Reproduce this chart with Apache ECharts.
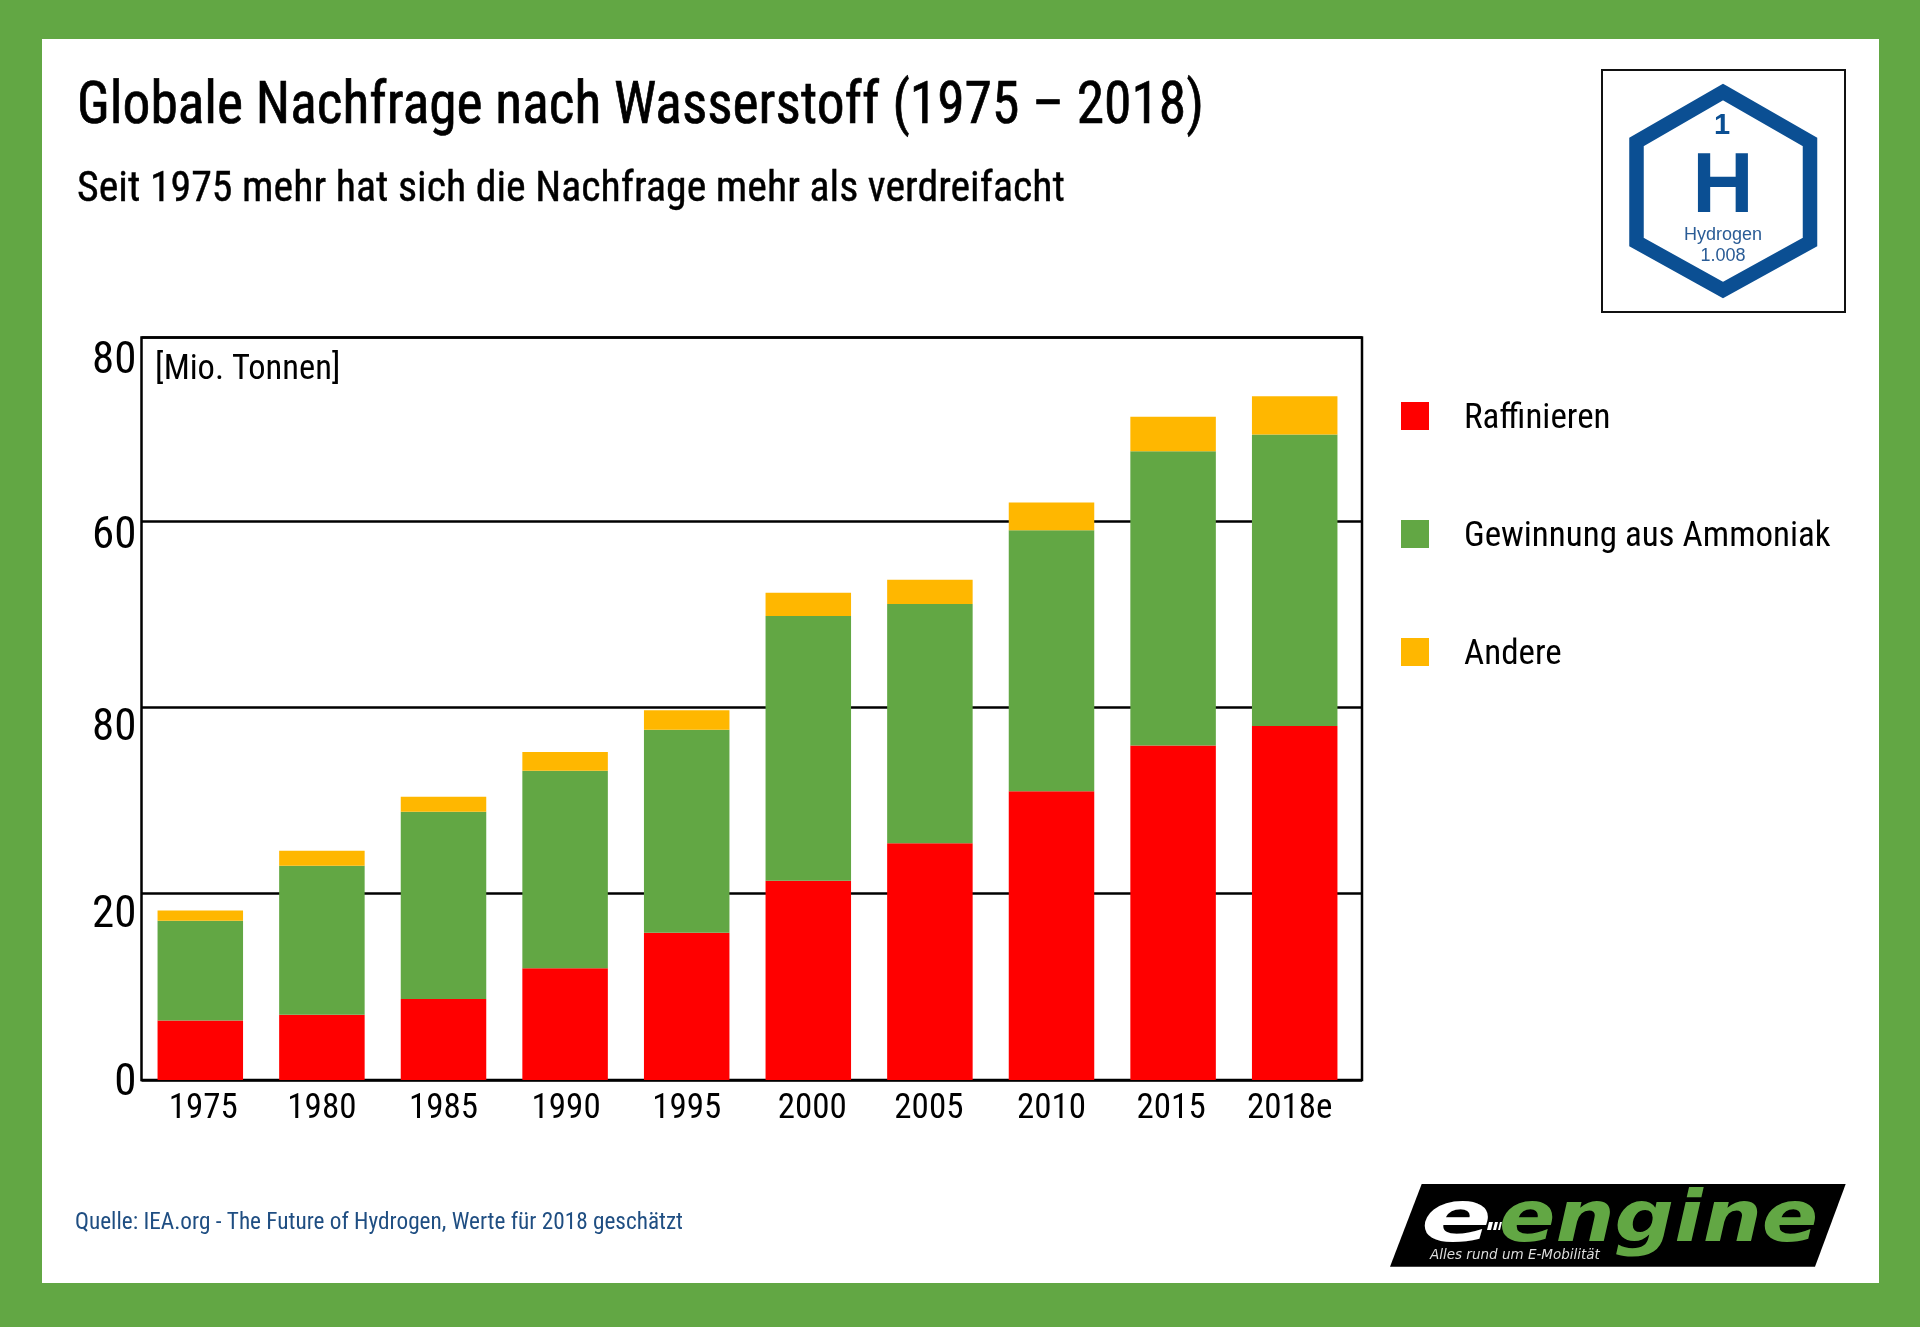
<!DOCTYPE html>
<html lang="de">
<head>
<meta charset="utf-8">
<title>Globale Nachfrage nach Wasserstoff</title>
<style>html,body{margin:0;padding:0;background:#fff}#c{width:1920px;height:1327px}</style>
<script src="https://cdn.jsdelivr.net/npm/echarts@6/dist/echarts.min.js"></script>
</head>
<body>
<div id="c"></div>
<script>
const categories = ['1975','1980','1985','1990','1995','2000','2005','2010','2015','2018e'];
const raffinieren = [6.4,7.0,8.7,12.0,15.8,21.4,25.4,31.0,35.9,38.0];
const ammoniak = [10.7,16.0,20.1,21.2,21.8,28.4,25.7,28.0,31.6,31.3];
const andere = [1.1,1.6,1.6,2.0,2.1,2.5,2.6,3.0,3.7,4.1];
const yTickLabels = ['0','20','80','60','80'];
const seriesNames = ['Raffinieren','Gewinnung aus Ammoniak','Andere'];
const titleText = 'Globale Nachfrage nach Wasserstoff (1975 – 2018)';
const subtitleText = 'Seit 1975 mehr hat sich die Nachfrage mehr als verdreifacht';
const sourceText = 'Quelle: IEA.org - The Future of Hydrogen, Werte für 2018 geschätzt';
const unitText = '[Mio. Tonnen]';

const yLabelShift = [4,22,21,16,24];
const xLabelShift = [3,0,0,1,0,4,-1,0,-2,-5];
const NARROW = '"Roboto Condensed","Liberation Sans Narrow","Liberation Sans",sans-serif';
const GREEN = '#62A744', RED = '#FF0000', AMBER = '#FFB700', BLUE = '#0B4F93';

const yRich = {};
yLabelShift.forEach((s,i)=>{yRich['t'+i]={padding:[2*s,0,0,0],fontFamily:NARROW,fontSize:45,color:'#000'};});
const xRich = {};
xLabelShift.forEach((s,i)=>{xRich['t'+i]={padding:s>=0?[0,0,0,2*s]:[0,-2*s,0,0],fontFamily:NARROW,fontSize:35,color:'#000'};});

const chart = echarts.init(document.getElementById('c'),null,{renderer:'canvas',width:1920,height:1327});
const t = (x,y,text,font,fill,extra)=>({type:'text',x,y,style:Object.assign({text,font,fill,textVerticalAlign:'middle'},extra||{})});

chart.setOption({
  animation:false,
  backgroundColor:GREEN,
  grid:[
    {left:141.5,top:337.5,width:1220.5,height:742.5,show:true,backgroundColor:'transparent',borderColor:'#000',borderWidth:2.5,containLabel:false},
    {left:139.5,top:337.5,width:1216,height:742.5,containLabel:false}
  ],
  xAxis:[
    {gridIndex:0,type:'value',min:0,max:1,show:false},
    {gridIndex:1,type:'category',data:categories,axisLine:{show:false},axisTick:{show:false},
     axisLabel:{interval:0,margin:12,formatter:(v,i)=>'{t'+i+'|'+v+'}',rich:xRich}}
  ],
  yAxis:[
    {gridIndex:0,type:'value',min:0,max:79.7,interval:20,
     axisLine:{show:false},axisTick:{show:false},
     splitLine:{show:true,lineStyle:{color:'#000',width:2.5}},
     axisLabel:{margin:5,showMaxLabel:true,formatter:(v,i)=>'{t'+i+'|'+yTickLabels[i]+'}',rich:yRich}},
    {gridIndex:1,type:'value',min:0,max:79.7,show:false,splitLine:{show:false}}
  ],
  legend:{
    orient:'vertical',left:1396,top:397,itemWidth:28,itemHeight:28,itemGap:83,icon:'rect',
    data:seriesNames,selectedMode:false,
    formatter:name=>'{a|'+name+'}',
    textStyle:{rich:{a:{fontFamily:NARROW,fontSize:35,color:'#000',padding:[7,0,0,30]}}}
  },
  series:[
    {name:seriesNames[0],type:'bar',stack:'d',xAxisIndex:1,yAxisIndex:1,barWidth:85.5,z:3,itemStyle:{color:RED},data:raffinieren},
    {name:seriesNames[1],type:'bar',stack:'d',xAxisIndex:1,yAxisIndex:1,barWidth:85.5,z:3,itemStyle:{color:GREEN},data:ammoniak},
    {name:seriesNames[2],type:'bar',stack:'d',xAxisIndex:1,yAxisIndex:1,barWidth:85.5,z:3,itemStyle:{color:AMBER},data:andere}
  ],
  graphic:{elements:[
    {type:'rect',z:-10,shape:{x:42,y:39,width:1837,height:1244},style:{fill:'#fff'}},
    {type:'text',x:77,y:108,scaleX:0.925,style:{text:titleText,font:'60px '+NARROW,fill:'#000',stroke:'#000',lineWidth:0.7,textVerticalAlign:'middle'}},
    {type:'text',x:77,y:190,scaleX:0.996,style:{text:subtitleText,font:'42px '+NARROW,fill:'#000',stroke:'#000',lineWidth:0.4,textVerticalAlign:'middle'}},
    t(155,370,unitText,'34.5px '+NARROW,'#000'),
    t(75,1223,sourceText,'23.25px '+NARROW,'#1F4E82'),
    {type:'rect',shape:{x:1602,y:70,width:243,height:242},style:{fill:'#fff',stroke:'#111',lineWidth:2}},
    {type:'polygon',shape:{points:[[1723,92],[1810,142],[1810,242],[1723,290],[1636.5,242],[1636.5,142]]},style:{fill:'#fff',stroke:BLUE,lineWidth:14.5,lineJoin:'miter'}},
    t(1722,126,'1','bold 29px "Liberation Sans",sans-serif',BLUE,{textAlign:'center'}),
    t(1723,189,'H','bold 85px "Liberation Sans",sans-serif',BLUE,{textAlign:'center'}),
    t(1723,235,'Hydrogen','18px "Liberation Sans",sans-serif','#2A5C96',{textAlign:'center'}),
    t(1723,256,'1.008','18px "Liberation Sans",sans-serif','#2A5C96',{textAlign:'center'}),
    {type:'polygon',shape:{points:[[1421.7,1184],[1845.7,1184],[1815,1266.7],[1390,1266.7]]},style:{fill:'#000'}},
    {type:'text',x:1421,y:1222,scaleX:1.45,style:{text:'e',font:'italic bold 72px "DejaVu Sans",sans-serif',fill:'#fff',textVerticalAlign:'middle'}},
    {type:'text',x:1499,y:1222,scaleX:1.155,style:{text:'engine',font:'italic bold 72px "DejaVu Sans",sans-serif',fill:GREEN,textVerticalAlign:'middle'}},
    {type:'polygon',shape:{points:[[1489,1222],[1493,1222],[1491,1230],[1487,1230]]},style:{fill:'#fff'}},
    {type:'polygon',shape:{points:[[1495,1222],[1498,1222],[1496,1230],[1493,1230]]},style:{fill:'#fff'}},
    {type:'polygon',shape:{points:[[1500,1222],[1502,1222],[1500,1230],[1498,1230]]},style:{fill:'#fff'}},
    t(1430,1255,'Alles rund um E-Mobilität','italic 13.5px "DejaVu Sans",sans-serif','#ddd')
  ]}
});
</script>
</body>
</html>
